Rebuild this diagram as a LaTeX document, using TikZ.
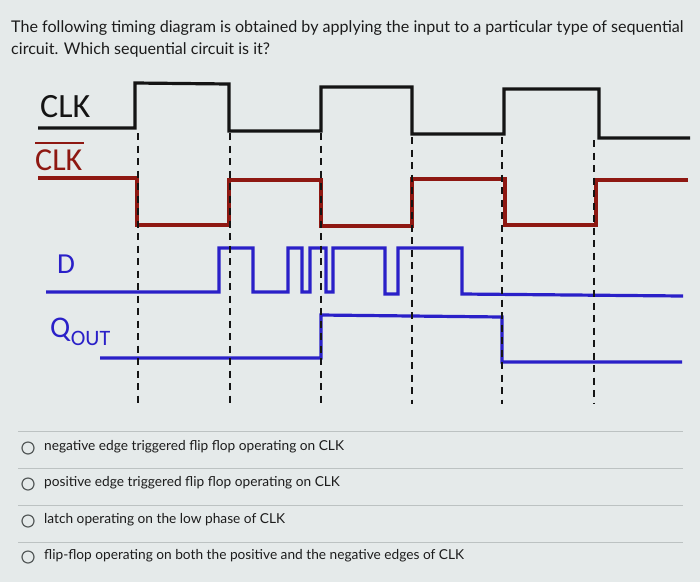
\documentclass[tikz,border=0pt]{standalone}
\usepackage{fontspec}
\setmainfont{Lato}
\newfontfamily\clkfont{Carlito}
\definecolor{bgc}{RGB}{229,234,234}
\definecolor{txt}{RGB}{28,28,28}
\definecolor{wblack}{RGB}{20,20,20}
\definecolor{wred}{RGB}{142,24,18}
\definecolor{wblue}{RGB}{42,32,200}
\definecolor{sepc}{RGB}{188,194,194}
\definecolor{radioc}{RGB}{85,90,90}
\begin{document}
\begin{tikzpicture}[x=1pt,y=-1pt,
  titletext/.style={anchor=base west,inner sep=0pt,text=txt,font=\fontsize{16.1}{19}\selectfont},
  opttext/.style={anchor=mid west,inner sep=0pt,text=txt,font=\fontsize{13.7}{16}\selectfont},
  siglabel/.style={anchor=base west,inner sep=0pt,font=\clkfont\fontsize{34}{36}\selectfont},
  wave/.style={line width=3.2pt,line join=miter},
  guide/.style={line width=2.8pt,wblack,dash pattern=on 7pt off 5.5pt},
  sepline/.style={line width=1pt,sepc},
  radio/.style={circle,draw=radioc,line width=1.2pt,minimum size=12pt,inner sep=0pt}]
\fill[bgc] (0,0) rectangle (700,582);
\useasboundingbox (0,0) rectangle (700,582);
% question
\node[titletext] (t1) at (11,32) {The following timing diagram is obtained by applying the input to a particular type of sequential};
\node[titletext] (t2) at (11,54) {circuit. Which sequential circuit is it?};
% labels
\node[siglabel,text=wblack] (clk) at (40,117) {CLK};
\node[siglabel,text=wred,font=\clkfont\fontsize{32}{34}\selectfont] (clkb) at (35,170) {CLK};
\draw[wred,line width=2.2pt] (35,143) -- (84,143);
\node[siglabel,text=wblue,font=\clkfont\fontsize{29}{30}\selectfont] (d) at (57,273) {D};
\node[siglabel,text=wblue,font=\clkfont\fontsize{30}{30}\selectfont] (q) at (50,337) {Q\kern0.5pt\raisebox{-8pt}{\fontsize{22}{22}\selectfont OUT}};
% CLK
\draw[wave,wblack] (38,128) -- (135,128) -- (135,83) -- (229,84) -- (229,131) -- (321,131) -- (321,87) -- (412,87) -- (412,134) -- (504,134) -- (504,89) -- (599,89) -- (599,138) -- (690,138);
% CLK bar
\draw[wave,wred] (38,178) -- (137,178) -- (137,225) -- (229,225) -- (229,180) -- (321,180) -- (321,226) -- (412,226) -- (412,179) -- (505,179) -- (505,225) -- (596,225) -- (596,180) -- (688,180);
% D
\draw[wave,wblue] (46,292) -- (219,292) -- (219,248) -- (253,248) -- (253,292) -- (288,292) -- (288,248) -- (302,248) -- (302,292) -- (310,292) -- (310,248) -- (326,248) -- (326,292) -- (333,292) -- (333,248) -- (385,248) -- (385,294) -- (398,294) -- (398,248) -- (462,248) -- (462,294) -- (683,296);
% Q
\draw[wave,wblue] (100,358) -- (321,358) -- (321,315) -- (502,317) -- (502,362) -- (682,362);
% guides
\foreach \gx/\gy in {138/133,230/133,321/133,412/137,502/137,594/140}
  \draw[guide] (\gx,\gy) -- (\gx,404);
% options
\foreach \sy in {431,468,505,542}
  \draw[sepline] (18,\sy) -- (683,\sy);
\node[radio] (r1) at (28,448) {};
\node[radio] (r2) at (28,484) {};
\node[radio] (r3) at (28,521) {};
\node[radio] (r4) at (28,557) {};
\node[opttext] (o1) at (44,448) {negative edge triggered flip flop operating on CLK};
\node[opttext] (o2) at (44,484) {positive edge triggered flip flop operating on CLK};
\node[opttext] (o3) at (44,521) {latch operating on the low phase of CLK};
\node[opttext] (o4) at (44,557) {flip-flop operating on both the positive and the negative edges of CLK};
\end{tikzpicture}
\end{document}
